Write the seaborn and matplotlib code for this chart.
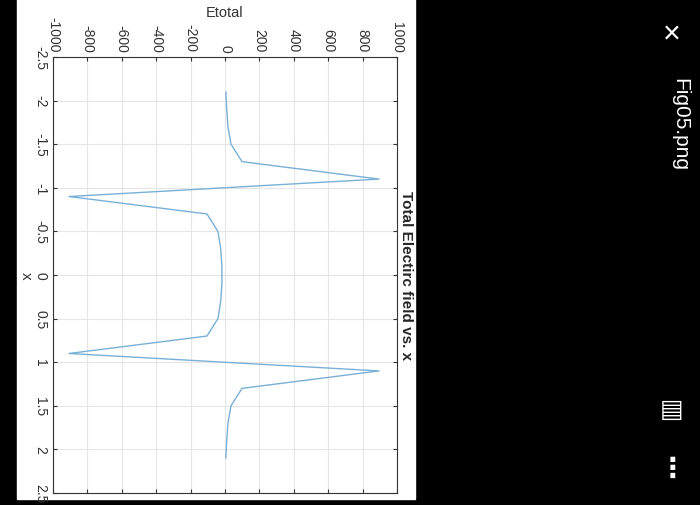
import numpy as np
import pandas as pd
import matplotlib
matplotlib.use("Agg")
import matplotlib.pyplot as plt
import seaborn as sns
from matplotlib.patches import Rectangle

# half of the curve (x <= 0), the other half is mirrored
x_half = [-2.1, -1.9, -1.7, -1.5, -1.3, -1.1, -0.9, -0.7, -0.5, -0.3, -0.1]
e_half = [5, 10, 17, 35, 99, 895, -907, -105, -41, -25, -18]

x_vals = x_half + [-v for v in reversed(x_half)]
e_vals = e_half + list(reversed(e_half))
df = pd.DataFrame({"x": x_vals, "Etotal": e_vals})

x_ticks = [-2.5, -2, -1.5, -1, -0.5, 0, 0.5, 1, 1.5, 2, 2.5]
x_tick_labels = ["-2.5", "-2", "-1.5", "-1", "-0.5", "0", "0.5", "1", "1.5", "2", "2.5"]
e_ticks = [-1000, -800, -600, -400, -200, 0, 200, 400, 600, 800, 1000]

sns.set_style("white")
plt.rcParams["font.family"] = ["Liberation Sans", "DejaVu Sans"]

fig = plt.figure(figsize=(7, 5.06), dpi=100, facecolor="black")
bg = Rectangle((17 / 700, 6 / 506), 398 / 700, 500 / 506,
               transform=fig.transFigure, color="white", zorder=-10)
fig.add_artist(bg)

ax = fig.add_axes([53 / 700, 12 / 506, 344 / 700, 436 / 506])
ax.set_zorder(5)
sns.lineplot(data=df, x="Etotal", y="x", orient="y", sort=False,
             color="#7ab0d8", linewidth=1, ax=ax)
ax.set_xlim(-1000, 1000)
ax.set_ylim(2.5, -2.5)
ax.set_xticks(e_ticks)
ax.set_xticklabels([str(t) for t in e_ticks], rotation=-90, fontsize=10, color="#333333")
ax.set_yticks(x_ticks)
ax.set_yticklabels(x_tick_labels, rotation=-90, va="center", fontsize=10, color="#333333")
ax.xaxis.tick_top()
ax.xaxis.set_label_position("top")
ax.tick_params(direction="in", length=3, color="#333333", top=True, bottom=True,
               left=True, right=True, pad=4)
ax.grid(True, color="#e6e6e6", linewidth=0.8)
for s in ax.spines.values():
    s.set_color("#333333")
    s.set_linewidth(0.8)
ax.set_xlabel("Etotal", fontsize=10.5, color="#333333")
ax.xaxis.set_label_coords(0.5, 1.095)
ax.set_ylabel("x", rotation=-90, fontsize=11, color="#333333")
ax.yaxis.set_label_coords(-0.1, 0.5)
ax.text(1.025, 0.5, "Total Electirc field vs. x", transform=ax.transAxes,
        rotation=-90, ha="center", va="center", fontsize=11, fontweight="bold")

# phone viewer overlay
fig.text(672 / 700, 1 - 35 / 506, "×", color="white", fontsize=22, ha="center", va="center")
fig.text(680 / 700, 1 - 125 / 506, "Fig05.png", color="white", fontsize=15,
         rotation=-90, ha="center", va="center")
fig.text(672 / 700, 1 - 410 / 506, "▤", color="white", fontsize=18, ha="center", va="center")
fig.text(672 / 700, 1 - 470 / 506, "⋮", color="white", fontsize=20, ha="center", va="center",
         fontweight="bold")

fig.savefig("out.png", dpi=100, facecolor="black")
